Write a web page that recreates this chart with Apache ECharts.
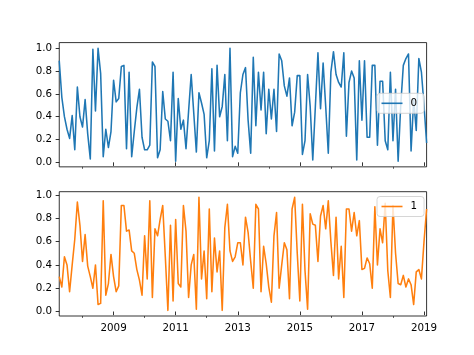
<!DOCTYPE html>
<html><head><meta charset="utf-8">
<script src="https://cdn.jsdelivr.net/npm/echarts@6/dist/echarts.min.js"></script>
<style>html,body{margin:0;padding:0;background:#fff}#c{width:474px;height:355px}</style>
</head><body><div id="c"></div><script>
// Monthly periods, first period = April 2007
const startYear = 2007, startMonth = 4;
const seriesNames = ['0', '1'];
const series0 = [
0.89,0.57,0.40,0.29,0.21,0.41,0.11,0.66,0.40,0.31,0.55,0.25,0.03,0.99,0.45,1.00,0.78,0.05,0.29,0.13,
0.27,0.72,0.53,0.56,0.84,0.85,0.12,0.79,0.05,0.27,0.48,0.64,0.22,0.11,0.11,0.15,0.88,0.84,0.04,0.11,
0.62,0.38,0.36,0.19,0.79,0.01,0.56,0.29,0.37,0.12,0.45,0.77,0.43,0.09,0.61,0.52,0.42,0.04,0.19,0.82,
0.10,0.85,0.40,0.49,0.77,0.19,1.00,0.05,0.14,0.08,0.61,0.77,0.83,0.37,0.08,0.92,0.32,0.79,0.46,0.79,
0.25,0.64,0.38,0.64,0.27,0.95,0.89,0.67,0.58,0.74,0.32,0.44,0.76,0.76,0.07,0.19,0.77,0.49,0.02,0.49,
0.96,0.47,0.87,0.49,0.08,0.79,0.97,0.77,0.70,0.66,0.96,0.23,0.70,0.80,0.74,0.02,0.89,0.37,0.89,0.22,
0.22,0.85,0.85,0.15,0.71,0.71,0.19,0.11,0.79,0.19,0.64,0.01,0.50,0.85,0.91,0.95,0.10,0.55,0.28,0.91,
0.79,0.50,0.17];
const series1 = [
0.30,0.21,0.47,0.40,0.17,0.40,0.62,0.94,0.74,0.43,0.66,0.39,0.30,0.20,0.40,0.06,0.07,0.95,0.14,0.24,
0.49,0.30,0.17,0.22,0.91,0.91,0.69,0.70,0.52,0.50,0.36,0.27,0.14,0.65,0.28,0.95,0.12,0.71,0.65,0.79,
0.91,0.47,0.01,0.74,0.09,0.79,0.24,0.21,0.91,0.69,0.12,0.40,0.49,0.02,0.98,0.28,0.52,0.11,0.88,0.17,
0.63,0.34,0.52,0.01,0.72,0.92,0.52,0.43,0.47,0.59,0.59,0.40,0.81,0.68,0.43,0.20,0.92,0.88,0.17,0.56,
0.41,0.21,0.08,0.65,0.85,0.20,0.40,0.59,0.53,0.11,0.88,0.98,0.50,0.09,0.92,0.35,0.02,0.84,0.75,0.74,
0.43,0.82,0.91,0.71,0.95,0.60,0.31,0.81,0.28,0.56,0.12,0.88,0.88,0.69,0.85,0.65,0.78,0.36,0.37,0.46,
0.41,0.20,0.90,0.40,0.71,0.59,0.93,0.35,0.12,0.91,0.50,0.24,0.23,0.31,0.21,0.28,0.23,0.06,0.34,0.36,
0.28,0.60,0.88];
const yTicks = [0.0, 0.2, 0.4, 0.6, 0.8, 1.0];
const xLabelYears = [2009, 2011, 2013, 2015, 2017, 2019];
const xMinorYears = [2008, 2010, 2012, 2014, 2016, 2018];
const colors = ['#1f77b4', '#ff7f0e'];

const allSeries = [series0, series1];
const xPos = series0.map((_, i) => startYear + (startMonth - 1 + i) / 12);
const xMin = xPos[0], xMax = xPos[xPos.length - 1];

const FONT = 'DejaVu Sans';
const FS = 10.3;
const grids = [
  {left: 59.25, right: 47.4, top: 42.6, height: 124.25},
  {left: 59.25, right: 47.4, top: 191.7, height: 124.3}
].map(g => Object.assign(g, {show: true, borderColor: '#000', borderWidth: 0.8, backgroundColor: '#fff', containLabel: false}));

const xAxes = [], yAxes = [], series = [], legends = [];
allSeries.forEach((data, k) => {
  const lo = Math.min(...data), hi = Math.max(...data), r = hi - lo;
  xAxes.push({
    type: 'value', gridIndex: k, min: xMin, max: xMax, position: 'bottom',
    axisLine: {show: false}, splitLine: {show: false},
    axisTick: {show: true, customValues: xLabelYears, length: 3.6, lineStyle: {color: '#000', width: 0.8}},
    axisLabel: {show: k === 1, customValues: xLabelYears, formatter: v => String(Math.round(v)),
      margin: 7.2, fontSize: FS, color: '#000', fontFamily: FONT, hideOverlap: false, showMinLabel: true, showMaxLabel: true}
  });
  xAxes.push({
    type: 'value', gridIndex: k, min: xMin, max: xMax, position: 'bottom',
    axisLine: {show: false}, splitLine: {show: false},
    axisTick: {show: true, customValues: xMinorYears, length: 2, lineStyle: {color: '#000', width: 0.6}},
    axisLabel: {show: false}
  });
  yAxes.push({
    type: 'value', gridIndex: k, min: lo - 0.05 * r, max: hi + 0.05 * r,
    axisLine: {show: false}, splitLine: {show: false},
    axisTick: {show: true, customValues: yTicks, length: 3.6, lineStyle: {color: '#000', width: 0.8}},
    axisLabel: {show: true, customValues: yTicks, formatter: v => v.toFixed(1), margin: 7.2,
      fontSize: FS, color: '#000', fontFamily: FONT}
  });
  series.push({
    name: seriesNames[k], type: 'line', xAxisIndex: 2 * k, yAxisIndex: k,
    data: data.map((v, i) => [xPos[i], v]), showSymbol: false, symbol: 'none', animation: false,
    lineStyle: {color: colors[k], width: 1.55, join: 'round'}, itemStyle: {color: colors[k]}
  });
  legends.push({
    data: [seriesNames[k]], left: 377, top: k === 0 ? 93.3 : 196.5,
    orient: 'vertical', icon: 'rect', itemWidth: 21, itemHeight: 1.6,
    padding: [5, 7, 5, 4.5], backgroundColor: 'rgba(255,255,255,0.8)',
    borderColor: '#cccccc', borderWidth: 0.8, borderRadius: 3,
    textStyle: {fontSize: FS, color: '#000', fontFamily: FONT, padding: [0, 0, 0, 3]},
    selectedMode: false
  });
});

const chart = echarts.init(document.getElementById('c'), null, {renderer: 'canvas'});
chart.setOption({
  animation: false, backgroundColor: '#fff',
  grid: grids, xAxis: xAxes, yAxis: yAxes, series: series, legend: legends
});
</script></body></html>
